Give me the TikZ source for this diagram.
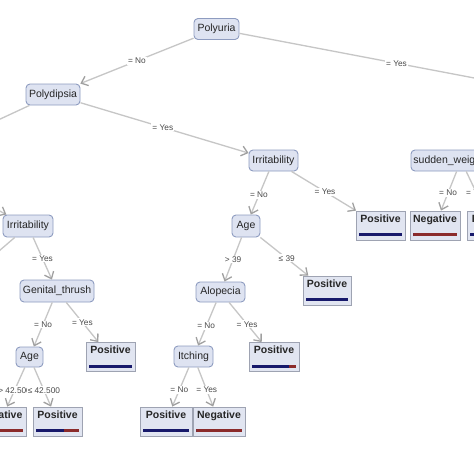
\documentclass[tikz,border=0pt]{standalone}
\usepackage{fontspec}
\setmainfont{Liberation Sans}
\usetikzlibrary{arrows.meta,calc}
\definecolor{decfill}{HTML}{DEE3F1}
\definecolor{decborder}{HTML}{8E9CC0}
\definecolor{leaffill}{HTML}{E1E5F1}
\definecolor{leafborder}{HTML}{9EA3B2}
\definecolor{barblue}{HTML}{17196B}
\definecolor{barred}{HTML}{8B2B2B}
\definecolor{edgegray}{HTML}{C6C6C6}
\definecolor{tipgray}{HTML}{A0A0A0}
\definecolor{labgray}{HTML}{4A4A4A}
\tikzset{
  dec/.style={draw=decborder, fill=decfill, rounded corners=4pt, line width=0.9pt,
    inner sep=0pt, minimum height=21pt, font=\fontsize{10.5}{12}\selectfont, text=black!85},
  leaf/.style={draw=leafborder, fill=leaffill, line width=0.8pt, inner xsep=2pt, inner ysep=3pt,
    text height=8pt, text depth=15pt, minimum height=29pt,
    font=\fontsize{10.5}{12}\selectfont\bfseries, text=black!85,
    path picture={
      \coordinate (bsw) at ([shift={(3pt,4pt)}]path picture bounding box.south west);
      \coordinate (bnw) at ([shift={(3pt,7pt)}]path picture bounding box.south west);
      \coordinate (bne) at ([shift={(-3pt,7pt)}]path picture bounding box.south east);
      \fill[barred] (bsw) rectangle (bne);
      \fill[barblue] (bsw) rectangle ($(bnw)!#1!(bne)$);
    }},
  edge/.style={draw=edgegray, line width=1.3pt,
    -{Straight Barb[length=6pt,width=10pt,line width=1.3pt,color=tipgray]}},
  plainedge/.style={draw=edgegray, line width=1.3pt},
  elab/.style={fill=white, inner sep=1pt, text=labgray, font=\fontsize{8.3}{9}\selectfont}
}
\begin{document}
\begin{tikzpicture}[x=1pt,y=-1pt]
\useasboundingbox (0,0) rectangle (474,474);
\clip (0,0) rectangle (474,474);
\fill[white] (0,0) rectangle (474,474);

% decision nodes
\node[dec, minimum width=45pt] (pu) at (216.5,29) {Polyuria};
\node[dec, minimum width=54pt] (pd) at (53,94.5) {Polydipsia};
\node[dec, minimum width=49pt] (irm) at (273.5,160.5) {Irritability};
\node[dec, minimum width=100pt] (swl) at (461,160.5) {sudden\_weight\_loss};
\node[dec, minimum width=28pt, minimum height=22pt] (agem) at (246,226) {Age};
\node[dec, minimum width=49pt, minimum height=20pt] (alo) at (220.5,292) {Alopecia};
\node[dec, minimum width=39pt] (itc) at (193.5,356.5) {Itching};
\node[dec, minimum width=50pt, minimum height=22pt] (irl) at (28,226) {Irritability};
\node[dec, minimum width=74pt, minimum height=22pt] (gt) at (57,291) {Genital\_thrush};
\node[dec, minimum width=27pt, minimum height=20pt] (agel) at (29.5,357) {Age};

% leaves
\node[leaf=1, minimum width=49pt] (l1) at (380.5,225.5) {Positive};
\node[leaf=0, minimum width=50pt] (l2) at (435,225.5) {Negative};
\node[leaf=1, minimum width=50pt] (l3) at (492,225.5) {Positive};
\node[leaf=1, minimum width=48pt] (l4) at (327,290.5) {Positive};
\node[leaf=0.85, minimum width=50pt] (l5) at (274,357) {Positive};
\node[leaf=1, minimum width=52pt] (l6) at (166,421.5) {Positive};
\node[leaf=0, minimum width=52pt] (l7) at (219,421.5) {Negative};
\node[leaf=1, minimum width=49pt] (l8) at (110.5,357) {Positive};
\node[leaf=0, minimum width=51pt] (l9) at (0.5,421.5) {Negative};
\node[leaf=0.65, minimum width=49pt] (l10) at (57.5,421.5) {Positive};

% off-picture ends
\coordinate (oR) at (560,94.3);
\coordinate (oL1) at (-60,147);
\coordinate (oL2) at (-40,190);
\coordinate (oL3) at (-30,276);

% connectors
\draw[edge] (pu) -- node[elab, pos=.5] {= No} (pd);
\draw[plainedge] (pu) -- node[elab, pos=.49] {= Yes} (oR);
\draw[plainedge] (pd) -- (oL1);
\draw[edge] (pd) -- node[elab, pos=.49] {= Yes} (irm);
\draw[edge] (irm) -- node[elab, pos=.55] {= No} (agem);
\draw[edge] (irm) -- node[elab, pos=.52] {= Yes} (l1);
\draw[edge] (swl) -- node[elab, pos=.55] {= No} (l2);
\draw[edge] (swl) -- node[elab, pos=.55] {= Yes} (l3);
\draw[edge] (agem) -- node[elab, pos=.5] {> 39} (alo);
\draw[edge] (agem) -- node[elab, pos=.55] {≤ 39} (l4);
\draw[edge] (alo) -- node[elab, pos=.55] {= No} (itc);
\draw[edge] (alo) -- node[elab, pos=.55] {= Yes} (l5);
\draw[edge] (itc) -- node[elab, pos=.58] {= No} (l6);
\draw[edge] (itc) -- node[elab, pos=.58] {= Yes} (l7);
\draw[edge] (oL2) -- (irl);
\draw[plainedge] (irl) -- (oL3);
\draw[edge] (irl) -- node[elab, pos=.5] {= Yes} (gt);
\draw[edge] (gt) -- node[elab, pos=.5] {= No} (agel);
\draw[edge] (gt) -- node[elab, pos=.5] {= Yes} (l8);
\draw[edge] (agel) -- node[elab, pos=.58] {> 42.500} (l9);
\draw[edge] (agel) -- node[elab, pos=.58] {≤ 42.500} (l10);
\end{tikzpicture}
\end{document}
